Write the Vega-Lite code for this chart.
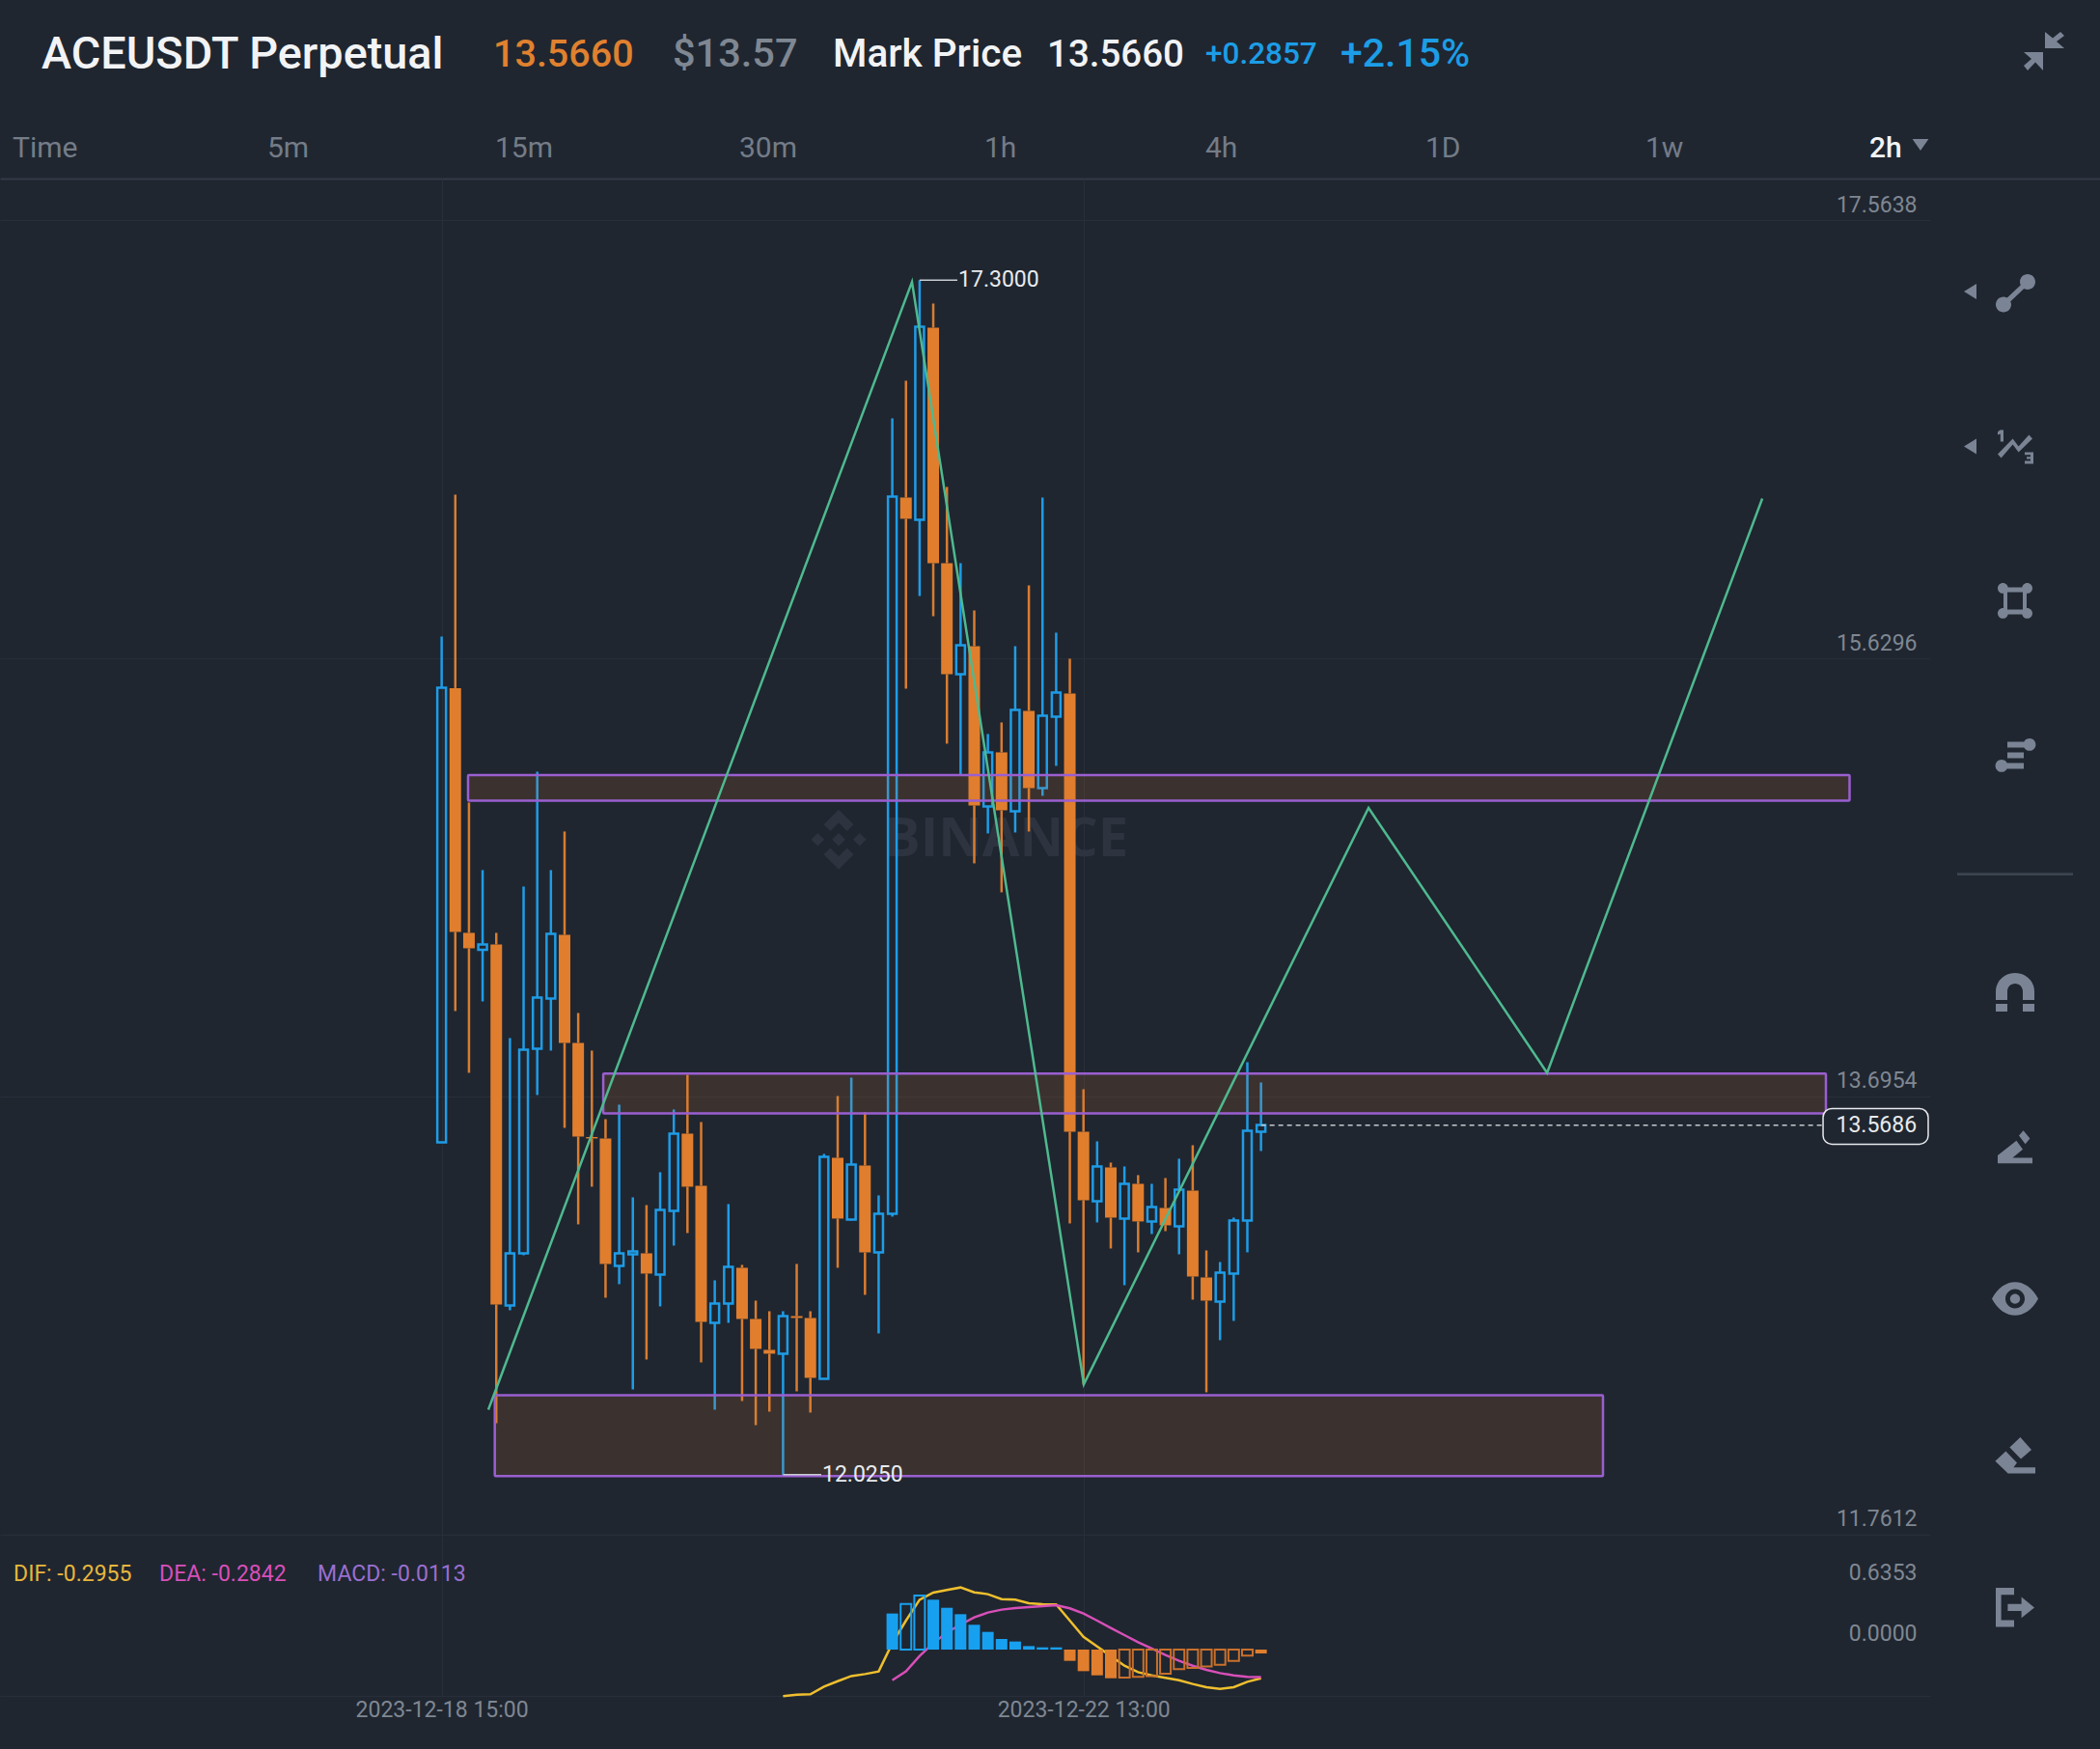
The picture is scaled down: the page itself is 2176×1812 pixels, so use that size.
{
  "$schema": "https://vega.github.io/schema/vega-lite/v6.json",
  "background": "#1f2630",
  "padding": 0,
  "config": {
    "view": {"stroke": null},
    "text": {"font": "Roboto"},
    "axis": {"labelFont": "Roboto"}
  },
  "datasets": {
    "candles": [
      {"t":"2023-12-18T15:00:00Z","side":"up","high":15.7266,"upper":15.5007,"lower":13.493,"low":13.493},
      {"t":"2023-12-18T17:00:00Z","side":"down","high":16.3532,"upper":15.4986,"lower":14.4223,"low":14.0727},
      {"t":"2023-12-18T19:00:00Z","side":"down","high":14.9934,"upper":14.418,"lower":14.3498,"low":13.7999},
      {"t":"2023-12-18T21:00:00Z","side":"up","high":14.6951,"upper":14.3668,"lower":14.3434,"low":14.1153},
      {"t":"2023-12-18T23:00:00Z","side":"down","high":14.418,"upper":14.3668,"lower":12.7769,"low":12.2526},
      {"t":"2023-12-19T01:00:00Z","side":"up","high":13.9534,"upper":13.0028,"lower":12.7726,"low":12.7513},
      {"t":"2023-12-19T03:00:00Z","side":"up","high":14.6226,"upper":13.9022,"lower":13.0028,"low":12.9943},
      {"t":"2023-12-19T05:00:00Z","side":"up","high":15.1298,"upper":14.1324,"lower":13.9065,"low":13.7019},
      {"t":"2023-12-19T07:00:00Z","side":"up","high":14.6951,"upper":14.4137,"lower":14.1281,"low":13.898},
      {"t":"2023-12-19T09:00:00Z","side":"down","high":14.8656,"upper":14.4095,"lower":13.9321,"low":13.5569},
      {"t":"2023-12-19T11:00:00Z","side":"down","high":14.0642,"upper":13.9321,"lower":13.5186,"low":13.1307},
      {"t":"2023-12-19T13:00:00Z","side":"down","high":13.898,"upper":13.5164,"lower":13.5101,"low":13.2969},
      {"t":"2023-12-19T15:00:00Z","side":"down","high":13.5953,"upper":13.5101,"lower":12.9559,"low":12.8067},
      {"t":"2023-12-19T17:00:00Z","side":"up","high":13.6592,"upper":13.0028,"lower":12.9474,"low":12.8664},
      {"t":"2023-12-19T19:00:00Z","side":"up","high":13.25,"upper":13.0113,"lower":12.9985,"low":12.4018},
      {"t":"2023-12-19T21:00:00Z","side":"down","high":13.2159,"upper":13.0028,"lower":12.9133,"low":12.5339},
      {"t":"2023-12-19T23:00:00Z","side":"up","high":13.3609,"upper":13.1946,"lower":12.909,"low":12.7684},
      {"t":"2023-12-20T01:00:00Z","side":"up","high":13.6379,"upper":13.5314,"lower":13.1904,"low":13.0369},
      {"t":"2023-12-20T03:00:00Z","side":"down","high":13.7914,"upper":13.5314,"lower":13.2969,"low":13.0923},
      {"t":"2023-12-20T05:00:00Z","side":"down","high":13.5825,"upper":13.3012,"lower":12.7002,"low":12.5211},
      {"t":"2023-12-20T07:00:00Z","side":"up","high":12.8835,"upper":12.7812,"lower":12.6959,"low":12.3123},
      {"t":"2023-12-20T09:00:00Z","side":"up","high":13.2202,"upper":12.9431,"lower":12.7812,"low":12.6959},
      {"t":"2023-12-20T11:00:00Z","side":"down","high":12.9517,"upper":12.9389,"lower":12.713,"low":12.3506},
      {"t":"2023-12-20T13:00:00Z","side":"down","high":12.7939,"upper":12.713,"lower":12.5808,"low":12.2441},
      {"t":"2023-12-20T15:00:00Z","side":"down","high":12.7471,"upper":12.5765,"lower":12.5595,"low":12.3037},
      {"t":"2023-12-20T17:00:00Z","side":"up","high":12.7471,"upper":12.7257,"lower":12.5595,"low":12.025},
      {"t":"2023-12-20T19:00:00Z","side":"down","high":12.9559,"upper":12.7257,"lower":12.7172,"low":12.3933},
      {"t":"2023-12-20T21:00:00Z","side":"down","high":12.7471,"upper":12.7172,"lower":12.4529,"low":12.2995},
      {"t":"2023-12-20T23:00:00Z","side":"up","high":13.4419,"upper":13.4291,"lower":12.4487,"low":12.4487},
      {"t":"2023-12-21T01:00:00Z","side":"down","high":13.6976,"upper":13.4248,"lower":13.1563,"low":12.9389},
      {"t":"2023-12-21T03:00:00Z","side":"up","high":13.7786,"upper":13.395,"lower":13.152,"low":13.1477},
      {"t":"2023-12-21T05:00:00Z","side":"down","high":13.6251,"upper":13.3907,"lower":13.0071,"low":12.8195},
      {"t":"2023-12-21T07:00:00Z","side":"up","high":13.2586,"upper":13.1776,"lower":13.0071,"low":12.649},
      {"t":"2023-12-21T09:00:00Z","side":"up","high":16.69,"upper":16.3447,"lower":13.1776,"low":13.1648},
      {"t":"2023-12-21T11:00:00Z","side":"down","high":16.8562,"upper":16.3404,"lower":16.2466,"low":15.4964},
      {"t":"2023-12-21T13:00:00Z","side":"up","high":17.3,"upper":17.0949,"lower":16.2424,"low":15.9056},
      {"t":"2023-12-21T15:00:00Z","side":"down","high":17.1972,"upper":17.0906,"lower":16.0506,"low":15.8161},
      {"t":"2023-12-21T17:00:00Z","side":"down","high":16.3873,"upper":16.0506,"lower":15.5604,"low":15.2535},
      {"t":"2023-12-21T19:00:00Z","side":"up","high":16.0506,"upper":15.6882,"lower":15.5604,"low":15.1171},
      {"t":"2023-12-21T21:00:00Z","side":"down","high":15.8417,"upper":15.684,"lower":14.9807,"low":14.7249},
      {"t":"2023-12-21T23:00:00Z","side":"up","high":15.2961,"upper":15.2151,"lower":14.9764,"low":14.857},
      {"t":"2023-12-22T01:00:00Z","side":"down","high":15.3472,"upper":15.2151,"lower":14.9593,"low":14.597},
      {"t":"2023-12-22T03:00:00Z","side":"up","high":15.684,"upper":15.4026,"lower":14.9551,"low":14.8613},
      {"t":"2023-12-22T05:00:00Z","side":"down","high":15.9525,"upper":15.3984,"lower":15.0574,"low":14.8656},
      {"t":"2023-12-22T07:00:00Z","side":"up","high":16.3404,"upper":15.3771,"lower":15.0574,"low":15.0233},
      {"t":"2023-12-22T09:00:00Z","side":"up","high":15.7437,"upper":15.4794,"lower":15.3728,"low":15.1554},
      {"t":"2023-12-22T11:00:00Z","side":"down","high":15.6286,"upper":15.4751,"lower":13.5399,"low":13.1349},
      {"t":"2023-12-22T13:00:00Z","side":"down","high":13.7274,"upper":13.5399,"lower":13.2373,"low":12.4231},
      {"t":"2023-12-22T15:00:00Z","side":"up","high":13.4973,"upper":13.3864,"lower":13.233,"low":13.1392},
      {"t":"2023-12-22T17:00:00Z","side":"down","high":13.4035,"upper":13.3822,"lower":13.1605,"low":13.0241},
      {"t":"2023-12-22T19:00:00Z","side":"up","high":13.3864,"upper":13.3097,"lower":13.1563,"low":12.8621},
      {"t":"2023-12-22T21:00:00Z","side":"down","high":13.3481,"upper":13.3097,"lower":13.1435,"low":13.0071},
      {"t":"2023-12-22T23:00:00Z","side":"up","high":13.3097,"upper":13.2074,"lower":13.1435,"low":13.0881},
      {"t":"2023-12-23T01:00:00Z","side":"down","high":13.3353,"upper":13.2031,"lower":13.1264,"low":13.1008},
      {"t":"2023-12-23T03:00:00Z","side":"up","high":13.4205,"upper":13.2841,"lower":13.1222,"low":12.9985},
      {"t":"2023-12-23T05:00:00Z","side":"down","high":13.4802,"upper":13.2799,"lower":12.9005,"low":12.7982},
      {"t":"2023-12-23T07:00:00Z","side":"down","high":13.0156,"upper":12.8962,"lower":12.7939,"low":12.389},
      {"t":"2023-12-23T09:00:00Z","side":"up","high":12.9644,"upper":12.9176,"lower":12.7897,"low":12.6192},
      {"t":"2023-12-23T11:00:00Z","side":"up","high":13.1605,"upper":13.1477,"lower":12.9133,"low":12.7044},
      {"t":"2023-12-23T13:00:00Z","side":"up","high":13.8468,"upper":13.5442,"lower":13.1477,"low":13.0071},
      {"t":"2023-12-23T15:00:00Z","side":"up","high":13.7573,"upper":13.5697,"lower":13.5399,"low":13.4546}
    ],
    "zones": [
      {"t":"2023-12-18T18:52:00Z","t2":"2023-12-27T05:12:00Z","top":15.115,"bottom":15.002},
      {"t":"2023-12-19T14:40:00Z","t2":"2023-12-27T01:44:00Z","top":13.797,"bottom":13.621},
      {"t":"2023-12-18T22:47:00Z","t2":"2023-12-25T17:05:00Z","top":12.376,"bottom":12.0195}
    ],
    "zigzag": [
      {"t":"2023-12-18T21:50:00Z","price":12.3123},
      {"t":"2023-12-21T11:53:00Z","price":17.2923},
      {"t":"2023-12-22T13:03:00Z","price":12.4244},
      {"t":"2023-12-24T06:45:00Z","price":14.97},
      {"t":"2023-12-25T08:54:00Z","price":13.7999},
      {"t":"2023-12-26T16:25:00Z","price":16.3362}
    ],
    "extremes": [
      {"t":"2023-12-21T13:00:00Z","t2":"2023-12-21T18:32:00Z","price":17.3,"label":"17.3000"},
      {"t":"2023-12-20T17:00:00Z","t2":"2023-12-20T22:36:00Z","price":12.025,"label":"12.0250"}
    ],
    "macd": [
      {"t":"2023-12-20T17:00:00Z","dif":-0.48},
      {"t":"2023-12-20T19:00:00Z","dif":-0.464},
      {"t":"2023-12-20T21:00:00Z","dif":-0.46},
      {"t":"2023-12-20T23:00:00Z","dif":-0.381},
      {"t":"2023-12-21T01:00:00Z","dif":-0.325},
      {"t":"2023-12-21T03:00:00Z","dif":-0.272},
      {"t":"2023-12-21T05:00:00Z","dif":-0.252},
      {"t":"2023-12-21T07:00:00Z","dif":-0.225},
      {"t":"2023-12-21T09:00:00Z","dif":0.066,"dea":-0.315,"hist":0.371,"look":"solid"},
      {"t":"2023-12-21T11:00:00Z","dif":0.298,"dea":-0.225,"hist":0.47,"look":"hollow"},
      {"t":"2023-12-21T13:00:00Z","dif":0.513,"dea":-0.066,"hist":0.556,"look":"hollow"},
      {"t":"2023-12-21T15:00:00Z","dif":0.586,"dea":0.066,"hist":0.513,"look":"solid"},
      {"t":"2023-12-21T17:00:00Z","dif":0.613,"dea":0.175,"hist":0.43,"look":"solid"},
      {"t":"2023-12-21T19:00:00Z","dif":0.639,"dea":0.258,"hist":0.364,"look":"solid"},
      {"t":"2023-12-21T21:00:00Z","dif":0.589,"dea":0.331,"hist":0.255,"look":"solid"},
      {"t":"2023-12-21T23:00:00Z","dif":0.57,"dea":0.381,"hist":0.182,"look":"solid"},
      {"t":"2023-12-22T01:00:00Z","dif":0.52,"dea":0.411,"hist":0.109,"look":"solid"},
      {"t":"2023-12-22T03:00:00Z","dif":0.513,"dea":0.427,"hist":0.083,"look":"solid"},
      {"t":"2023-12-22T05:00:00Z","dif":0.477,"dea":0.437,"hist":0.036,"look":"solid"},
      {"t":"2023-12-22T07:00:00Z","dif":0.467,"dea":0.447,"hist":0.023,"look":"solid"},
      {"t":"2023-12-22T09:00:00Z","dif":0.464,"dea":0.457,"hist":0.023,"look":"solid"},
      {"t":"2023-12-22T11:00:00Z","dif":0.298,"dea":0.424,"hist":-0.116,"look":"solid"},
      {"t":"2023-12-22T13:00:00Z","dif":0.132,"dea":0.371,"hist":-0.222,"look":"solid"},
      {"t":"2023-12-22T15:00:00Z","dif":0.033,"dea":0.298,"hist":-0.265,"look":"solid"},
      {"t":"2023-12-22T17:00:00Z","dif":-0.066,"dea":0.222,"hist":-0.295,"look":"solid"},
      {"t":"2023-12-22T19:00:00Z","dif":-0.166,"dea":0.149,"hist":-0.288,"look":"hollow"},
      {"t":"2023-12-22T21:00:00Z","dif":-0.232,"dea":0.076,"hist":-0.281,"look":"hollow"},
      {"t":"2023-12-22T23:00:00Z","dif":-0.265,"dea":0.01,"hist":-0.272,"look":"hollow"},
      {"t":"2023-12-23T01:00:00Z","dif":-0.291,"dea":-0.056,"hist":-0.248,"look":"hollow"},
      {"t":"2023-12-23T03:00:00Z","dif":-0.315,"dea":-0.116,"hist":-0.202,"look":"hollow"},
      {"t":"2023-12-23T05:00:00Z","dif":-0.354,"dea":-0.166,"hist":-0.189,"look":"hollow"},
      {"t":"2023-12-23T07:00:00Z","dif":-0.387,"dea":-0.209,"hist":-0.175,"look":"hollow"},
      {"t":"2023-12-23T09:00:00Z","dif":-0.404,"dea":-0.242,"hist":-0.156,"look":"hollow"},
      {"t":"2023-12-23T11:00:00Z","dif":-0.387,"dea":-0.265,"hist":-0.116,"look":"hollow"},
      {"t":"2023-12-23T13:00:00Z","dif":-0.331,"dea":-0.281,"hist":-0.063,"look":"hollow"},
      {"t":"2023-12-23T15:00:00Z","dif":-0.2955,"dea":-0.2842,"hist":-0.04,"look":"solid"}
    ],
    "header": [
      {"label":"ACEUSDT Perpetual","pos":43,"line":"quote","kind":"title"},
      {"label":"13.5660","pos":511,"line":"quote","kind":"last"},
      {"label":"$13.57","pos":697,"line":"quote","kind":"usd"},
      {"label":"Mark Price","pos":863,"line":"quote","kind":"mark"},
      {"label":"13.5660","pos":1085,"line":"quote","kind":"markValue"},
      {"label":"+0.2857","pos":1249,"line":"quote","kind":"changeSmall"},
      {"label":"+2.15%","pos":1389,"line":"quote","kind":"changeBig"},
      {"label":"Time","pos":13,"line":"tabs","kind":"tab"},
      {"label":"5m","pos":277,"line":"tabs","kind":"tab"},
      {"label":"15m","pos":513,"line":"tabs","kind":"tab"},
      {"label":"30m","pos":766,"line":"tabs","kind":"tab"},
      {"label":"1h","pos":1020,"line":"tabs","kind":"tab"},
      {"label":"4h","pos":1249,"line":"tabs","kind":"tab"},
      {"label":"1D","pos":1477,"line":"tabs","kind":"tab"},
      {"label":"1w","pos":1705,"line":"tabs","kind":"tab"},
      {"label":"2h","pos":1937,"line":"tabs","kind":"active"}
    ]
  },
  "bounds": "flush",
  "spacing": 0,
  "resolve": {"scale": {"color": "independent", "shape": "independent", "size": "independent"}},
  "vconcat": [
    {
      "width": 2176,
      "height": 185,
      "encoding": {
        "x": {
          "field": "pos", "type": "quantitative",
          "scale": {"domain": [0, 2176], "nice": false, "zero": false},
          "axis": {"orient": "bottom", "domain": true, "domainColor": "#343b46", "domainWidth": 2, "ticks": false, "labels": false, "grid": false, "title": null}
        },
        "y": {"field": "line", "type": "ordinal", "scale": {"type": "point", "padding": 0, "domain": ["quote", "tabs"], "range": [57, 154]}, "axis": null}
      },
      "layer": [
        {
          "data": {"name": "header"},
          "transform": [{"filter": "datum.kind == 'tab'"}],
          "mark": {"type": "text", "align": "left", "baseline": "middle", "font": "Roboto", "fontSize": 30, "color": "#747c88"},
          "encoding": {
            "text": {"field": "label"}
          }
        },
        {
          "data": {"name": "header"},
          "transform": [{"filter": "datum.kind != 'tab'"}],
          "mark": {"type": "text", "align": "left", "baseline": "middle", "font": "Roboto", "fontWeight": 500},
          "encoding": {
            "text": {"field": "label"},
            "color": {
              "field": "kind", "legend": null,
              "scale": {
                "domain": ["title", "last", "usd", "mark", "markValue", "changeSmall", "changeBig", "active"],
                "range": ["#f2f3f5", "#e0812f", "#7f8792", "#f2f3f5", "#f2f3f5", "#1c9de6", "#1c9de6", "#f2f3f5"]
              }
            },
            "size": {
              "field": "kind", "type": "nominal", "legend": null,
              "scale": {
                "type": "ordinal",
                "domain": ["title", "last", "usd", "mark", "markValue", "changeSmall", "changeBig", "active"],
                "range": [46.8, 39.5, 41.5, 40.5, 38.5, 31.5, 41, 30]
              }
            }
          }
        },
        {
          "data": {"values": [
            {"icon":"dropdown","pos":1990,"line":"tabs"},
            {"icon":"compress","pos":2118,"line":"quote"}
          ]},
          "mark": {"type": "point", "filled": true, "size": 1600, "opacity": 1, "color": "#7a8494"},
          "encoding": {
            "shape": {
              "field": "icon", "legend": null,
              "scale": {
                "domain": ["dropdown", "compress"],
                "range": [
                  "M-.42,-.5H.42L0,.1Z",
                  "M.05,-.35V-1.2L.45,-.87L.85,-1.2L1.05,-1L.65,-.7L1.05,-.35Z M-.05,-.15V.8L-.45,.37L-.85,.8L-1.05,.55L-.65,.2L-1.05,-.15Z"
                ]
              }
            }
          }
        }
      ]
    },
    {
      "bounds": "full",
      "spacing": 0,
      "resolve": {"scale": {"color": "independent", "shape": "independent", "size": "independent"}},
      "hconcat": [
        {
          "bounds": "flush",
          "spacing": 0,
          "resolve": {"scale": {"color": "independent", "shape": "independent", "size": "independent"}},
          "vconcat": [
            {
              "width": 2000,
              "height": 1407,
              "encoding": {
                "x": {
                  "field": "t", "type": "temporal",
                  "scale": {"type": "utc", "domain": ["2023-12-15T22:19:00Z", "2023-12-27T17:00:00Z"], "nice": false, "padding": 0},
                  "axis": {
                    "values": [
                      {"utc": true, "year": 2023, "month": 12, "date": 18, "hours": 15},
                      {"utc": true, "year": 2023, "month": 12, "date": 22, "hours": 13}
                    ],
                    "grid": true, "gridColor": "#282f3a", "labels": false, "ticks": false, "domain": false, "title": null
                  }
                }
              },
              "layer": [
                {
                  "data": {"values": [{"t": "2023-12-21T01:09:00Z", "price": 14.83}]},
                  "mark": {"type": "point", "filled": true, "opacity": 1, "color": "#2d3440", "size": 3844, "shape": "M0,-.22L.22,0L0,.22L-.22,0Z M-.7,-.22L-.48,0L-.7,.22L-.92,0Z M.7,-.22L.92,0L.7,.22L.48,0Z M0,-1L.5,-.5L.28,-.28L0,-.56L-.28,-.28L-.5,-.5Z M0,1L.5,.5L.28,.28L0,.56L-.28,.28L-.5,.5Z"},
                  "encoding": {
                    "y": {
                      "field": "price", "type": "quantitative",
                      "scale": {"domain": [11.7516, 17.749], "nice": false, "zero": false},
                      "axis": {
                        "orient": "right", "values": [17.5638, 15.6296, 13.6954, 11.7612], "format": ".4f",
                        "grid": true, "gridColor": "#282f3a", "ticks": false, "domain": false, "title": null,
                        "labelAlign": "right", "labelBaseline": "middle", "labelPadding": -14, "labelOffset": -16,
                        "labelColor": "#7f8792", "labelFontSize": 23
                      }
                    }
                  }
                },
                {
                  "data": {"values": [{"t": "2023-12-21T07:48:00Z", "price": 14.83, "label": "BINANCE"}]},
                  "mark": {"type": "text", "align": "left", "baseline": "middle", "font": "Open Sans", "fontWeight": "bold", "fontSize": 56, "color": "#2d3440"},
                  "encoding": {
                    "y": {"field": "price", "type": "quantitative"},
                    "text": {"field": "label"}
                  }
                },
                {
                  "data": {"name": "candles"},
                  "mark": {"type": "rule", "strokeWidth": 2.5},
                  "encoding": {
                    "y": {"field": "high", "type": "quantitative"},
                    "y2": {"field": "upper"},
                    "color": {"field": "side", "legend": null, "scale": {"domain": ["up", "down"], "range": ["#1f9ce6", "#d97c30"]}}
                  }
                },
                {
                  "data": {"name": "candles"},
                  "mark": {"type": "rule", "strokeWidth": 2.5},
                  "encoding": {
                    "y": {"field": "lower", "type": "quantitative"},
                    "y2": {"field": "low"},
                    "color": {"field": "side", "legend": null}
                  }
                },
                {
                  "data": {"name": "candles"},
                  "transform": [{"filter": "datum.side == 'down'"}],
                  "mark": {"type": "bar", "size": 12, "color": "#e07e2e", "orient": "vertical"},
                  "encoding": {
                    "y": {"field": "upper", "type": "quantitative"},
                    "y2": {"field": "lower"}
                  }
                },
                {
                  "data": {"name": "candles"},
                  "transform": [{"filter": "datum.side == 'up'"}],
                  "mark": {"type": "bar", "size": 9, "filled": false, "stroke": "#1f9ce6", "strokeWidth": 2.5, "orient": "vertical"},
                  "encoding": {
                    "y": {"field": "upper", "type": "quantitative"},
                    "y2": {"field": "lower"}
                  }
                },
                {
                  "data": {"name": "zones"},
                  "mark": {"type": "rect", "fill": "#e07e2e", "fillOpacity": 0.145, "stroke": "#9a5fd0", "strokeWidth": 2.5, "cornerRadius": 1},
                  "encoding": {
                    "x2": {"field": "t2"},
                    "y": {"field": "top", "type": "quantitative"},
                    "y2": {"field": "bottom"}
                  }
                },
                {
                  "data": {"name": "zigzag"},
                  "mark": {"type": "line", "color": "#4fb98f", "strokeWidth": 2.5},
                  "encoding": {
                    "y": {"field": "price", "type": "quantitative"}
                  }
                },
                {
                  "data": {"name": "extremes"},
                  "mark": {"type": "rule", "color": "#c9ccd1", "strokeWidth": 1.5},
                  "encoding": {
                    "x2": {"field": "t2"},
                    "y": {"field": "price", "type": "quantitative"}
                  }
                },
                {
                  "data": {"name": "extremes"},
                  "mark": {"type": "text", "align": "left", "baseline": "middle", "fontSize": 23, "color": "#e8eaed", "dx": 1},
                  "encoding": {
                    "x": {"field": "t2", "type": "temporal"},
                    "y": {"field": "price", "type": "quantitative"},
                    "text": {"field": "label"}
                  }
                },
                {
                  "data": {"values": [{"t": "2023-12-23T15:00:00Z", "t2": "2023-12-27T01:19:00Z", "price": 13.5686}]},
                  "mark": {"type": "rule", "color": "#c5c8cc", "strokeWidth": 1.5, "strokeDash": [5, 4]},
                  "encoding": {
                    "x2": {"field": "t2"},
                    "y": {"field": "price", "type": "quantitative"}
                  }
                },
                {
                  "data": {"values": [{"t": "2023-12-27T01:19:00Z", "t2": "2023-12-27T16:43:00Z", "top": 13.6422, "bottom": 13.4845}]},
                  "mark": {"type": "rect", "fill": "#1f2630", "stroke": "#e8eaed", "strokeWidth": 1.5, "cornerRadius": 9},
                  "encoding": {
                    "x2": {"field": "t2"},
                    "y": {"field": "top", "type": "quantitative"},
                    "y2": {"field": "bottom"}
                  }
                },
                {
                  "data": {"values": [{"t": "2023-12-27T15:02:00Z", "price": 13.5686, "label": "13.5686"}]},
                  "mark": {"type": "text", "align": "right", "baseline": "middle", "fontSize": 23, "color": "#e8eaed"},
                  "encoding": {
                    "y": {"field": "price", "type": "quantitative"},
                    "text": {"field": "label"}
                  }
                }
              ]
            },
            {
              "width": 2000,
              "height": 165,
              "encoding": {
                "x": {
                  "field": "t", "type": "temporal",
                  "scale": {"type": "utc", "domain": ["2023-12-15T22:19:00Z", "2023-12-27T17:00:00Z"], "nice": false, "padding": 0},
                  "axis": {
                    "values": [
                      {"utc": true, "year": 2023, "month": 12, "date": 18, "hours": 15},
                      {"utc": true, "year": 2023, "month": 12, "date": 22, "hours": 13}
                    ],
                    "format": "%Y-%m-%d %H:%M", "grid": true, "gridColor": "#282f3a", "ticks": false,
                    "domain": true, "domainColor": "#282f3a", "title": null,
                    "labelColor": "#7f8792", "labelFontSize": 23, "labelPadding": 3
                  }
                }
              },
              "layer": [
                {
                  "data": {"name": "macd"},
                  "mark": {"type": "line", "color": "#efbf2e", "strokeWidth": 2.5},
                  "encoding": {
                    "y": {
                      "field": "dif", "type": "quantitative",
                      "scale": {"domain": [-0.4767, 1.1619], "nice": false, "zero": false},
                      "axis": {
                        "orient": "right", "values": [0.6353, 0], "format": ".4f", "grid": false, "ticks": false, "domain": false, "title": null,
                        "labelAlign": "right", "labelBaseline": "middle", "labelPadding": -14, "labelOffset": -16,
                        "labelColor": "#7f8792", "labelFontSize": 23
                      }
                    }
                  }
                },
                {
                  "data": {"name": "macd"},
                  "transform": [{"filter": "isValid(datum.dea)"}],
                  "mark": {"type": "line", "color": "#d84fb8", "strokeWidth": 2.5},
                  "encoding": {
                    "y": {"field": "dea", "type": "quantitative"}
                  }
                },
                {
                  "data": {"name": "macd"},
                  "transform": [{"filter": "datum.look == 'solid'"}],
                  "mark": {"type": "bar", "size": 12, "orient": "vertical"},
                  "encoding": {
                    "y": {"field": "hist", "type": "quantitative"},
                    "y2": {"datum": 0},
                    "color": {"condition": {"test": "datum.hist > 0", "value": "#18a0f0"}, "value": "#e07e2e"}
                  }
                },
                {
                  "data": {"name": "macd"},
                  "transform": [{"filter": "datum.look == 'hollow'"}],
                  "mark": {"type": "bar", "size": 11, "filled": false, "strokeWidth": 2, "orient": "vertical"},
                  "encoding": {
                    "y": {"field": "hist", "type": "quantitative"},
                    "y2": {"datum": 0},
                    "stroke": {"condition": {"test": "datum.hist > 0", "value": "#18a0f0"}, "value": "#c9702c"}
                  }
                },
                {
                  "data": {"values": [
                    {"t":"2023-12-16T00:18:00Z","v":0.775,"label":"DIF: -0.2955","series":"dif"},
                    {"t":"2023-12-16T21:39:00Z","v":0.775,"label":"DEA: -0.2842","series":"dea"},
                    {"t":"2023-12-17T20:50:00Z","v":0.775,"label":"MACD: -0.0113","series":"macd"}
                  ]},
                  "mark": {"type": "text", "align": "left", "baseline": "middle", "fontSize": 23},
                  "encoding": {
                    "y": {"field": "v", "type": "quantitative"},
                    "text": {"field": "label"},
                    "color": {"field": "series", "legend": null, "scale": {"domain": ["dif", "dea", "macd"], "range": ["#e8b63c", "#d84fb8", "#9a6fd0"]}}
                  }
                }
              ]
            }
          ]
        },
        {
          "width": 176,
          "height": 1627,
          "data": {"values": [
            {"tool":"trend","slot":0},
            {"tool":"fib","slot":0.99},
            {"tool":"shape","slot":1.99},
            {"tool":"lines","slot":2.99},
            {"tool":"divider","slot":3.76},
            {"tool":"magnet","slot":4.525},
            {"tool":"pen","slot":5.525},
            {"tool":"eye","slot":6.51},
            {"tool":"eraser","slot":7.52},
            {"tool":"exit","slot":8.51}
          ]},
          "mark": {"type": "point", "filled": true, "size": 1600, "opacity": 1},
          "encoding": {
            "y": {"field": "slot", "type": "quantitative", "axis": null, "scale": {"domain": [9.425, -0.74375], "nice": false, "zero": false}},
            "color": {"condition": {"test": "datum.tool == 'divider'", "value": "#3c4450"}, "value": "#7a8494"},
            "shape": {
              "field": "tool", "legend": null,
              "scale": {
                "domain": ["trend", "fib", "shape", "lines", "divider", "magnet", "pen", "eye", "eraser", "exit"],
                "range": [
                  "M-2.65,-.1L-2,-.5L-2,.3Z M-1,.58a.4,.4 0 1,1 .8,0a.4,.4 0 1,1 -.8,0Z M.25,-.6a.4,.4 0 1,1 .8,0a.4,.4 0 1,1 -.8,0Z M-.69,.49L.56,-.69L.74,-.51L-.51,.67Z",
                  "M-2.65,0L-2,-.4L-2,.4Z M-.9,.4L-.12,-.4L.18,0L.72,-.6L.9,-.4L.18,.3L-.12,-.1L-.72,.6Z M-.78,-.85L-.6,-.85L-.6,-.25L-.76,-.25L-.76,-.65L-.9,-.6L-.9,-.75Z M.5,.3H.95V.9H.5V.76H.8V.66H.6V.54H.8V.44H.5Z",
                  "M-.6,-.7H.6V.7H-.6Z M-.4,-.45V.45H.4V-.45Z M-.9,-.65a.27,.27 0 1,1 .54,0a.27,.27 0 1,1 -.54,0Z M.36,-.65a.27,.27 0 1,1 .54,0a.27,.27 0 1,1 -.54,0Z M-.9,.65a.27,.27 0 1,1 .54,0a.27,.27 0 1,1 -.54,0Z M.36,.65a.27,.27 0 1,1 .54,0a.27,.27 0 1,1 -.54,0Z",
                  "M-.4,-.7H.9V-.4H-.4Z M-.4,-.15H.45V.15H-.4Z M-.6,.4H.45V.7H-.6Z M.43,-.55a.32,.32 0 1,1 .64,0a.32,.32 0 1,1 -.64,0Z M-1.02,.55a.32,.32 0 1,1 .64,0a.32,.32 0 1,1 -.64,0Z",
                  "M-3,-.07H3V.07H-3Z",
                  "M-1,.4V-.05A1,.95 0 0 1 1,-.05V.4H.4V-.05A.4,.4 0 0 0 -.4,-.05V.4Z M-1,.6H-.4V1H-1Z M.4,.6H1V1H.4Z",
                  "M-.9,.45L.07,-.31L.4,.14L-.13,.57H.9V.86H-.9Z M.2,-.57L.43,-.84L.77,-.43L.53,-.14Z",
                  "M-1.2,0C-.6,-1.15 .6,-1.15 1.2,0C.6,1.15 -.6,1.15 -1.2,0Z M-.5,0a.5,.5 0 1,0 1,0a.5,.5 0 1,0 -1,0Z M-.26,0a.26,.26 0 1,1 .52,0a.26,.26 0 1,1 -.52,0Z",
                  "M-.28,-.38L.27,-.91L.85,-.26L.3,.21Z M-1.03,.33L-.48,-.19L.1,.41L-.08,.65H1.05V.96H-.37Z",
                  "M-1,-1.03H-.05V-.67H-.72V.65H-.05V1H-1Z M-.38,-.19H.33V-.55L1,0L.33,.53V.17H-.38Z"
                ]
              }
            }
          }
        }
      ]
    }
  ]
}
